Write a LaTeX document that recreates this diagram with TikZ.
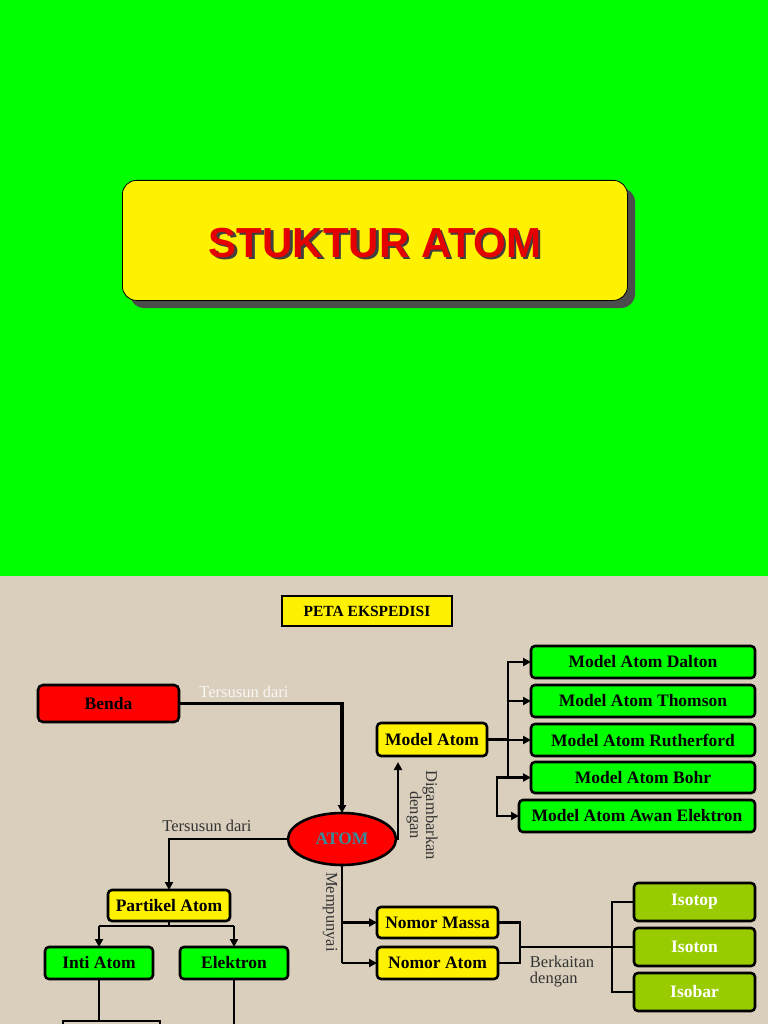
\documentclass[tikz,border=0pt]{standalone}
\usepackage{fontspec}
\setmainfont{Liberation Serif}
\newfontfamily\titlefont{Liberation Sans}
\usetikzlibrary{arrows.meta,shapes.geometric}
\definecolor{bg}{HTML}{D9CFBC}
\definecolor{gr}{HTML}{00FF00}
\definecolor{ol}{HTML}{99CC00}
\definecolor{tl}{HTML}{3A8A9A}
\tikzset{
 box/.style={draw=black,line width=2.6pt,outer sep=0pt,rounded corners=4pt,font=\bfseries\fontsize{17.5}{19}\selectfont,inner sep=0pt,anchor=north west},
 yb/.style={box,fill=yellow},
 gb/.style={box,fill=green},
 ob/.style={box,fill=ol,text=white,font=\bfseries\fontsize{17.5}{19}\selectfont},
 ln/.style={line width=2.4pt},
 ar/.style={ln,-{Triangle[length=8pt,width=8pt]}},
 lbl/.style={font=\fontsize{16.5}{16}\selectfont,text=black!80}
}
\begin{document}
\begin{tikzpicture}[x=1pt,y=-1pt]
\useasboundingbox (0,0) rectangle (768,1024);
\fill[gr] (0,0) rectangle (768,576);
\fill[bg] (0,576) rectangle (768,1024);
% title
\fill[black!70,rounded corners=14pt] (130,188) rectangle (635,308);
\node[draw=black,line width=0.8pt,fill=yellow,rounded corners=14pt,minimum width=505pt,minimum height=120pt,anchor=north west,inner sep=0pt] (title) at (122,180) {};
\node[text=black!75,font=\titlefont\bfseries\fontsize{42}{46}\selectfont] at (377.5,245.5) {STUKTUR ATOM};
\node[text=red!90!black,font=\titlefont\bfseries\fontsize{42}{46}\selectfont] (tt) at (375,243) {STUKTUR ATOM};
% map
\node[box,fill=yellow,rounded corners=0pt,minimum width=170pt,minimum height=30pt,font=\bfseries\fontsize{15.5}{17}\selectfont] (peta) at (282,596) {PETA EKSPEDISI};
\node[box,fill=red,minimum width=141pt,minimum height=37pt,rounded corners=5pt] (benda) at (38,685) {Benda};
\node[white!85!bg,font=\fontsize{16.5}{16}\selectfont] (ghost) at (244,692) {Tersusun dari};
\node[draw=black,line width=2.6pt,outer sep=0pt,fill=red,ellipse,minimum width=108pt,minimum height=52pt,inner sep=0pt,text=tl,font=\bfseries\fontsize{17.5}{19}\selectfont] (atom) at (342,839) {ATOM};
\node[yb,minimum width=110pt,minimum height=33pt] (model) at (377,723) {Model Atom};
\node[gb,minimum width=224pt,minimum height=32pt] (dal) at (531,646) {Model Atom Dalton};
\node[gb,minimum width=224pt,minimum height=32pt] (tho) at (531,685) {Model Atom Thomson};
\node[gb,minimum width=224pt,minimum height=32pt] (rut) at (531,724) {Model Atom Rutherford};
\node[gb,minimum width=224pt,minimum height=31pt] (boh) at (531,762) {Model Atom Bohr};
\node[gb,minimum width=236pt,minimum height=32pt] (awa) at (519,800) {Model Atom Awan Elektron};
\node[yb,minimum width=122pt,minimum height=31pt] (part) at (108,890) {Partikel Atom};
\node[gb,minimum width=108pt,minimum height=32pt] (inti) at (45,947) {Inti Atom};
\node[gb,minimum width=108pt,minimum height=32pt] (elek) at (180,947) {Elektron};
\node[draw=black,line width=2.6pt,outer sep=0pt,fill=bg,minimum width=97pt,minimum height=12pt,anchor=north west,inner sep=0pt] (bot) at (63,1021) {};
\node[yb,minimum width=121pt,minimum height=31pt] (nm) at (377,907) {Nomor Massa};
\node[yb,minimum width=121pt,minimum height=32pt] (na) at (377,947) {Nomor Atom};
\node[ob,minimum width=121pt,minimum height=38pt] (isotop) at (634,883) {Isotop};
\node[ob,minimum width=121pt,minimum height=38pt] (isoton) at (634,928) {Isoton};
\node[ob,minimum width=121pt,minimum height=38pt] (isobar) at (634,973) {Isobar};
% connectors
\draw[ar,line width=3.4pt] (benda.east) -| (atom.north);
\draw[ln] (model.east) -- (508,739.5);
\draw[ar] (508,778) |- (dal.west);
\draw[ar] (508,701) -- (tho.west);
\draw[ar] (508,740) -- (rut.west);
\draw[ar] (508,777.5) -- (boh.west);
\draw[ar] (508,777.5) -- (497,777.5) |- (awa.west);
\draw[ar] (atom.east) -- (398,839) -- (398,762);
\node[lbl,rotate=-90,align=center] (dig) at (422,815) {Digambarkan\\dengan};
\draw[ar] (atom.west) -| (part.north);
\node[lbl] (ter) at (207,826) {Tersusun dari};
\draw[ln] (part.south) -- (169,926);
\draw[ln] (99,926) -- (234,926);
\draw[ar] (99,926) -- (inti.north);
\draw[ar] (234,926) -- (elek.north);
\draw[ln] (inti.south) -- (99,1021);
\draw[ln] (elek.south) -- (234,1024);
\draw[ln] (atom.south) -- (342,963);
\draw[ar] (342,922.5) -- (nm.west);
\draw[ar] (342,963) -- (na.west);
\node[lbl,rotate=-90] (mem) at (330,912) {Mempunyai};
\draw[ln] (nm.east) -- (520,922.5) -- (520,963) -- (na.east);
\draw[ln] (520,947) -- (isoton.west);
\draw[ln] (isotop.west) -- (612,902) -- (612,992) -- (isobar.west);
\node[lbl,align=left] (berk) at (562,972) {Berkaitan\\dengan};
\end{tikzpicture}
\end{document}
